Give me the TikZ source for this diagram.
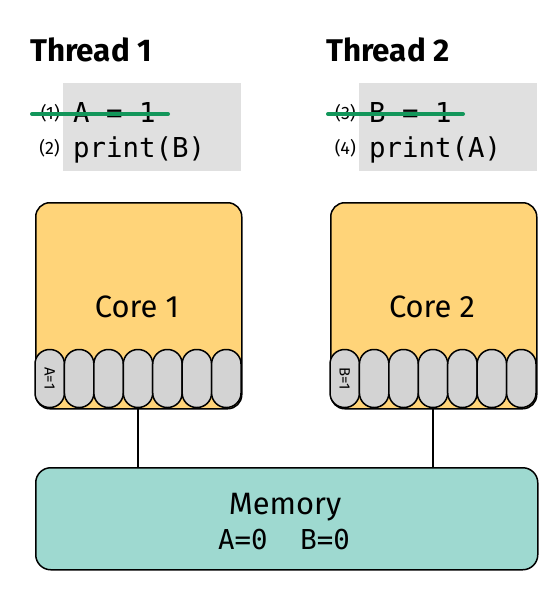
\documentclass[tikz,border=0pt]{standalone}
\usepackage{fontspec}
\setmainfont{Fira Sans}
\setmonofont{DejaVu Sans Mono}
\definecolor{coreY}{RGB}{255,212,121}
\definecolor{cellG}{RGB}{211,211,211}
\definecolor{codeG}{RGB}{224,224,224}
\definecolor{memT}{RGB}{158,217,208}
\definecolor{strikeG}{RGB}{18,150,90}
\begin{document}
\begin{tikzpicture}[x=1bp,y=-1bp,
  title/.style={anchor=base west,inner sep=0,font=\fontsize{31.5}{34}\selectfont\bfseries},
  codebg/.style={fill=codeG,draw=none,inner sep=0,anchor=north west,minimum width=178bp,minimum height=88bp},
  code/.style={anchor=base west,inner sep=0,font=\fontsize{27.5}{30}\ttfamily},
  num/.style={anchor=base east,inner sep=0,font=\fontsize{18}{20}\selectfont},
  big/.style={anchor=base,inner sep=0,font=\fontsize{31}{34}\selectfont},
  core/.style={draw,line width=1.5bp,fill=coreY,rounded corners=14bp,inner sep=0,anchor=north west,minimum width=206bp,minimum height=206bp},
  cell/.style={draw,line width=1.5bp,fill=cellG,rounded corners=14.5bp,inner sep=0,minimum width=29.43bp,minimum height=58bp},
  celltxt/.style={rotate=-90,inner sep=0,font=\fontsize{15}{16}\selectfont},
  mem/.style={draw,line width=1.5bp,fill=memT,rounded corners=15bp,inner sep=0,anchor=north west,minimum width=502bp,minimum height=102bp},
  strike/.style={draw=strikeG,line width=4bp,line cap=round},
  wire/.style={draw,line width=1.5bp}]
\path[use as bounding box] (0,0) rectangle (560,595);
% Thread 1
\node[title] (t1) at (30,62) {Thread 1};
\node[codebg] (cb1) at (63,83) {};
\node[num] (n1) at (60,120) {(1)};
\node[code] (l1) at (73,123) {A = 1};
\node[num] (n2) at (60,155) {(2)};
\node[code] (l2) at (73,158) {print(B)};
\coordinate (s1a) at (32,114);
\coordinate (s1b) at (168,114);
\draw[strike] (s1a) -- (s1b);
% Thread 2
\node[title] (t2) at (326,62) {Thread 2};
\node[codebg] (cb2) at (359,83) {};
\node[num] (n3) at (356,120) {(3)};
\node[code] (l3) at (369,123) {B = 1};
\node[num] (n4) at (356,155) {(4)};
\node[code] (l4) at (369,158) {print(A)};
\coordinate (s2a) at (328,114);
\coordinate (s2b) at (463,114);
\draw[strike] (s2a) -- (s2b);
% Cores
\node[core] (core1) at (35,202) {};
\node[big] (ct1) at (137,317) {Core 1};
\node[core] (core2) at (330,202) {};
\node[big] (ct2) at (432,317) {Core 2};
\foreach \i in {1,...,7}{
  \node[cell] (ca\i) at ({35+(\i-0.5)*29.43},378.5) {};
  \node[cell] (cb\i) at ({330+(\i-0.5)*29.43},378.5) {};
}
\node[celltxt] (v1) at (ca1) {A=1};
\node[celltxt] (v2) at (cb1) {B=1};
% Memory
\node[mem] (mem) at (35,467) {};
\node[big] (mt) at (285,514) {Memory};
\node[inner sep=0,font=\fontsize{27.5}{30}\ttfamily] (mv) at (284,540) {A=0\ \ B=0};
% wires
\draw[wire] (ca4.south) -- (ca4.south |- mem.north);
\draw[wire] (cb4.south) -- (cb4.south |- mem.north);
\end{tikzpicture}
\end{document}
